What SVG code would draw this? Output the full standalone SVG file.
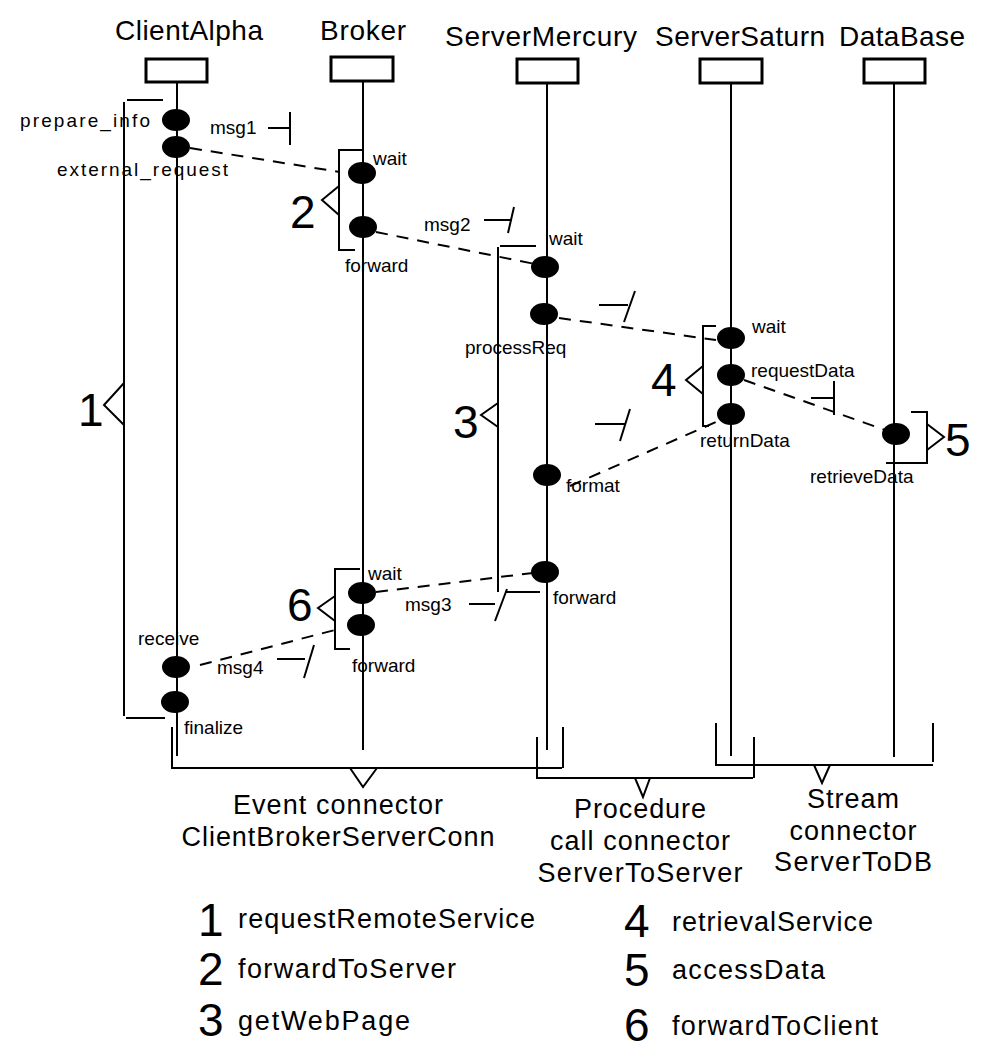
<svg xmlns="http://www.w3.org/2000/svg" width="992" height="1061" viewBox="0 0 992 1061">
<style>
text{font-family:"Liberation Sans",Arial,sans-serif;fill:#000}
.h{font-size:28px;text-anchor:middle}
.l{font-size:19px}
.n{font-size:46px}
.c{font-size:27px;text-anchor:middle}
.g{font-size:27px}
.ln{stroke:#000;stroke-width:2;fill:none}
.d{stroke:#000;stroke-width:2;stroke-dasharray:12,9;fill:none}
.b{fill:#fff;stroke:#000;stroke-width:3}
</style>
<rect width="992" height="1061" fill="#fff"/>
<g id="ClientAlpha"><text class="h" x="189" y="40" textLength="148">ClientAlpha</text><rect class="b" x="146" y="59" width="61" height="23"/><line class="ln" x1="177" y1="83" x2="177" y2="756"/></g>
<g id="Broker"><text class="h" x="363" y="40" textLength="86">Broker</text><rect class="b" x="331" y="57" width="62" height="24"/><line class="ln" x1="363" y1="82" x2="363" y2="750"/></g>
<g id="ServerMercury"><text class="h" x="541" y="46" textLength="192">ServerMercury</text><rect class="b" x="517" y="59" width="61" height="24"/><line class="ln" x1="547" y1="84" x2="547" y2="750"/></g>
<g id="ServerSaturn"><text class="h" x="740" y="46" textLength="170">ServerSaturn</text><rect class="b" x="700" y="59" width="62" height="24"/><line class="ln" x1="731" y1="84" x2="731" y2="756"/></g>
<g id="DataBase"><text class="h" x="902" y="46" textLength="126">DataBase</text><rect class="b" x="864" y="59" width="61" height="24"/><line class="ln" x1="894" y1="84" x2="894" y2="757"/></g>

<g id="events">
<ellipse cx="176" cy="120" rx="14" ry="11"/><ellipse cx="176" cy="147" rx="14" ry="11"/><ellipse cx="176" cy="667" rx="14" ry="11"/><ellipse cx="175" cy="702" rx="14" ry="11"/>
<ellipse cx="362" cy="173" rx="14" ry="11"/><ellipse cx="363" cy="227" rx="14" ry="11"/><ellipse cx="362" cy="593" rx="14" ry="11"/><ellipse cx="361" cy="625" rx="14" ry="11"/>
<ellipse cx="545" cy="267" rx="14" ry="11"/><ellipse cx="544" cy="314" rx="14" ry="11"/><ellipse cx="547" cy="475" rx="14" ry="11"/><ellipse cx="545" cy="572" rx="14" ry="11"/>
<ellipse cx="731" cy="338" rx="14" ry="11"/><ellipse cx="731" cy="375" rx="14" ry="11"/><ellipse cx="731" cy="414" rx="14" ry="11"/>
<ellipse cx="896" cy="434" rx="14" ry="11"/>
</g>
<g id="labels">
<text class="l" x="20" y="127" textLength="130">prepare_info</text>
<text class="l" x="57" y="176" textLength="171">external_request</text>
<text class="l" x="373" y="165">wait</text>
<text class="l" x="345" y="272">forward</text>
<text class="l" x="549" y="245">wait</text>
<text class="l" x="465" y="354">processReq</text>
<text class="l" x="566" y="492">format</text>
<text class="l" x="553" y="604">forward</text>
<text class="l" x="752" y="333">wait</text>
<text class="l" x="751" y="377">requestData</text>
<text class="l" x="700" y="447">returnData</text>
<text class="l" x="810" y="483">retrieveData</text>
<text class="l" x="368" y="580">wait</text>
<text class="l" x="352" y="672">forward</text>
<text class="l" x="138" y="645">receive</text>
<text class="l" x="184" y="734">finalize</text>
</g>
<g id="brackets">
<path class="ln" d="M127,100H163M124,102V716M126,718H165M124,383L104,405L124,425"/>
<text class="n" x="78" y="426">1</text>
<path class="ln" d="M362,150H339V250H355M339,186L322,200L339,215"/>
<text class="n" x="290" y="228">2</text>
<path class="ln" d="M500,246H536M498,247V592M505,592H540M498,403L481,415L498,427"/>
<text class="n" x="453" y="438">3</text>
<path class="ln" d="M716,326H703V426H709M703,366L686,380L703,394"/>
<text class="n" x="651" y="396">4</text>
<path class="ln" d="M911,412H927V463H886M927,424L944,437L927,450"/>
<text class="n" x="945" y="456">5</text>
<path class="ln" d="M360,569H335V649H350M335,596L318,608L335,621"/>
<text class="n" x="287" y="621">6</text>
</g>
<g id="connectors">
<path class="d" d="M190,148L340,172M376,232L535,264M559,318L716,340M744,380L885,430M570,486L716,422M376,592L533,573M200,665L335,630"/>
<path class="ln" d="M268,128H290M290,112V145M484,220H512M514,207L508,233M599,305H628M635,291L624,322M811,398H834M834,381V415M595,424H625M630,409L620,441M469,604H495M507,589L495,621M277,659H305M314,645L304,678"/>
<text class="l" x="210" y="134">msg1</text>
<text class="l" x="424" y="231">msg2</text>
<text class="l" x="405" y="611">msg3</text>
<text class="l" x="217" y="674">msg4</text>
</g>
<g id="bottom">
<path class="ln" d="M172,727V768H562M563,727V768M350,768L363,787L377,768"/>
<path class="ln" d="M537,737V778H753M754,737V778M635,778L643,797L650,778"/>
<path class="ln" d="M716,723V765H933M933,723V762M814,765L822,783L830,765"/>
<text class="c" x="338" y="814" textLength="210">Event connector</text>
<text class="c" x="338" y="846" textLength="313">ClientBrokerServerConn</text>
<text class="c" x="640" y="818" textLength="132">Procedure</text>
<text class="c" x="640" y="850" textLength="180">call connector</text>
<text class="c" x="640" y="882" textLength="205">ServerToServer</text>
<text class="c" x="853" y="808" textLength="92">Stream</text>
<text class="c" x="853" y="840" textLength="127">connector</text>
<text class="c" x="853" y="871" textLength="158">ServerToDB</text>
</g>
<g id="legend">
<text class="n" x="198" y="936">1</text><text class="g" x="238" y="928" textLength="297">requestRemoteService</text>
<text class="n" x="198" y="985">2</text><text class="g" x="238" y="978" textLength="218">forwardToServer</text>
<text class="n" x="198" y="1036">3</text><text class="g" x="238" y="1030" textLength="172">getWebPage</text>
<text class="n" x="624" y="937">4</text><text class="g" x="672" y="931" textLength="201">retrievalService</text>
<text class="n" x="624" y="986">5</text><text class="g" x="672" y="979" textLength="153">accessData</text>
<text class="n" x="624" y="1041">6</text><text class="g" x="672" y="1035" textLength="206">forwardToClient</text>
</g>
</svg>
